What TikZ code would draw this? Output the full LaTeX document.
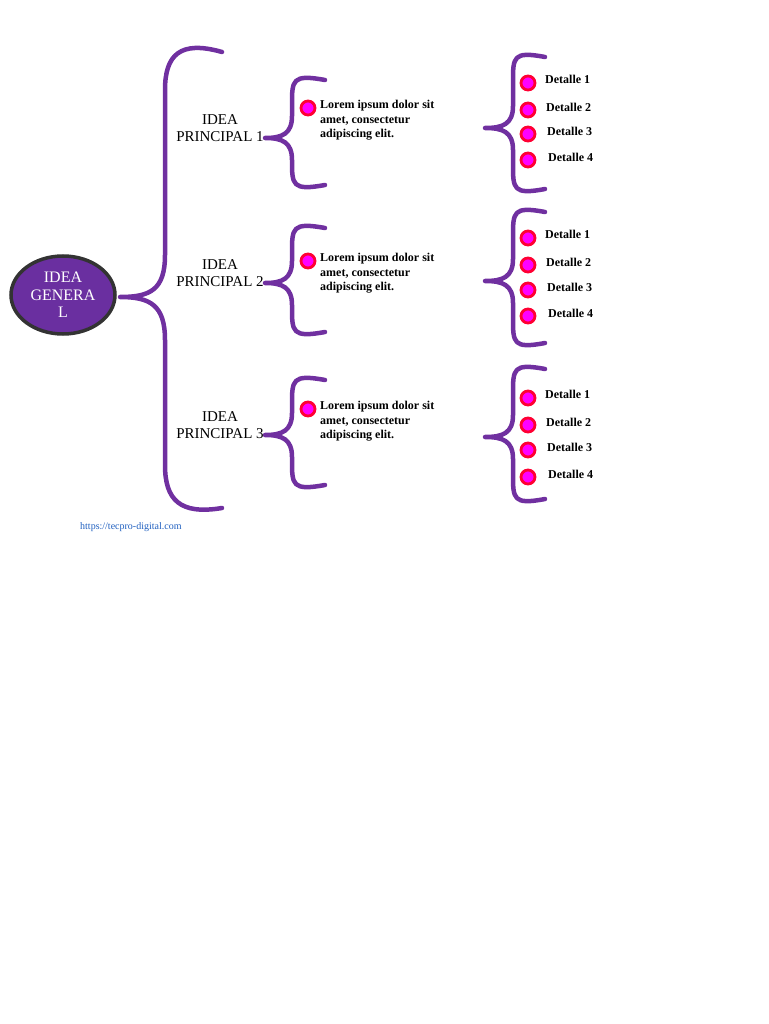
\documentclass[tikz,border=0pt]{standalone}
\usepackage{fontspec}
\usetikzlibrary{shapes.geometric}
\setmainfont{Liberation Serif}
\definecolor{purp}{HTML}{7030A0}
\definecolor{ellf}{HTML}{6A2FA0}
\definecolor{bulr}{HTML}{FF0033}
\definecolor{bulm}{HTML}{FF00FF}
\definecolor{linkc}{HTML}{1F5FBF}
\newcommand{\mybrace}[6]{% xend xv xtip ytop ytip ybot
  \draw[br] (#1,#4) .. controls (#2,#4-6) and (#2,#4) .. (#2,#4+25)
    -- (#2,#5-22) .. controls (#2,#5-4) and (#2-10,#5) .. (#3,#5)
    .. controls (#2-10,#5) and (#2,#5+4) .. (#2,#5+22)
    -- (#2,#6-25) .. controls (#2,#6) and (#2,#6+6) .. (#1,#6);}
\begin{document}
\begin{tikzpicture}[x=1pt,y=-1pt,
  br/.style={purp,line width=4.5pt,line cap=round,line join=round},
  bul/.style={circle,fill=bulm,draw=bulr,line width=2.8pt,minimum size=14pt,inner sep=0pt},
  lor/.style={font=\bfseries\fontsize{12}{14.5}\selectfont,align=left,anchor=north west,inner sep=0pt},
  det/.style={font=\bfseries\fontsize{12}{14}\selectfont,anchor=west,inner sep=0pt},
  ip/.style={font=\fontsize{15}{16.5}\selectfont,align=center,inner sep=0pt}]
\useasboundingbox (0,0) rectangle (768,1024);
% big brace
\draw[br] (222,52) .. controls (180,40) and (165,55) .. (165,90) -- (165,255)
  .. controls (165,290) and (150,297) .. (120,297)
  .. controls (150,297) and (165,305) .. (165,340) -- (165,465)
  .. controls (165,500) and (180,515) .. (222,508);
\node[ellipse,draw=black!80,line width=3.5pt,fill=ellf,minimum width=104pt,minimum height=78pt,inner sep=0pt,text=white,align=center,font=\fontsize{16}{17.5}\selectfont] (gen) at (63,295) {IDEA\\GENERA\\L};
\foreach \yt/\yp/\yb/\n in {80/138/185/1,228/283/332/2,380/435/485/3}{
  \mybrace{325}{292}{265}{\yt}{\yp}{\yb}
  \node[ip] (ip\n) at (220,\yp-10) {IDEA\\PRINCIPAL \n};
}
\foreach \yt/\yp/\yb in {57/128/189,212/281/343,369/437/499}{
  \mybrace{545}{513}{485}{\yt}{\yp}{\yb}
}
\foreach \y/\n in {108/1,261/2,409/3}{
  \node[bul] (b\n) at (308,\y) {};
  \node[lor] (l\n) at (320,\y-8) {Lorem ipsum dolor sit\\amet, consectetur\\adipiscing elit.};
}
\foreach \ya/\yb/\yc/\yd/\g in {83/110/134/160/a,238/265/290/316/b,398/425/450/477/c}{
  \node[bul] (\g1) at (528,\ya) {}; \node[det] at (545,\ya-4) {Detalle 1};
  \node[bul] (\g2) at (528,\yb) {}; \node[det] at (546,\yb-3) {Detalle 2};
  \node[bul] (\g3) at (528,\yc) {}; \node[det] at (547,\yc-3) {Detalle 3};
  \node[bul] (\g4) at (528,\yd) {}; \node[det] at (548,\yd-3) {Detalle 4};
}
\node[anchor=west,inner sep=0pt,text=linkc,font=\fontsize{10}{11}\selectfont] (link) at (80,527) {https://tecpro-digital.com};
\end{tikzpicture}
\end{document}
